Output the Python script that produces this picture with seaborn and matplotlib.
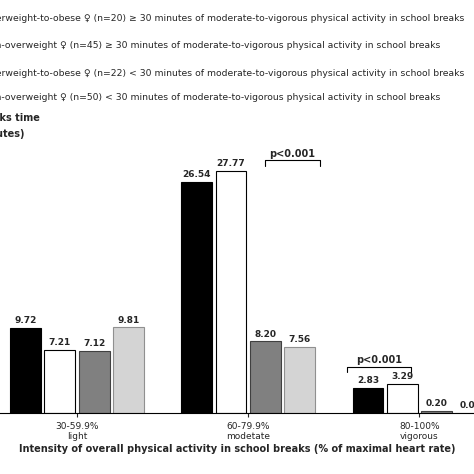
import matplotlib
matplotlib.use("Agg")
import matplotlib.pyplot as plt
import seaborn as sns
import pandas as pd

intensity = ["30-59.9%\nlight", "60-79.9%\nmodetate", "80-100%\nvigorous"]
groups = ["OW ≥30", "NW ≥30", "OW <30", "NW <30"]
values = {
    "OW ≥30": [9.72, 26.54, 2.83],
    "NW ≥30": [7.21, 27.77, 3.29],
    "OW <30": [7.12, 8.20, 0.20],
    "NW <30": [9.81, 7.56, 0.00],
}
legend_lines = [
    "Overweight-to-obese \u2640 (n=20) \u2265 30 minutes of moderate-to-vigorous physical activity in school breaks",
    "Non-overweight \u2640 (n=45) \u2265 30 minutes of moderate-to-vigorous physical activity in school breaks",
    "Overweight-to-obese \u2640 (n=22) < 30 minutes of moderate-to-vigorous physical activity in school breaks",
    "Non-overweight \u2640 (n=50) < 30 minutes of moderate-to-vigorous physical activity in school breaks",
]
colors = ["#000000", "#ffffff", "#808080", "#d4d4d4"]
edges = ["#000000", "#000000", "#404040", "#909090"]

rows = [(intensity[i], g, values[g][i]) for g in groups for i in range(3)]
df = pd.DataFrame(rows, columns=["intensity", "group", "value"])

sns.set_style("white")
fig = plt.figure(figsize=(4.74, 4.74), dpi=100)
ax = fig.add_axes([0, 0.129, 1, 0.551])
sns.barplot(data=df, x="intensity", y="value", hue="group", order=intensity,
            hue_order=groups, palette=colors, width=0.8, edgecolor="black",
            linewidth=0.8, ax=ax, legend=False)
for c, ec in zip(ax.containers, edges):
    for p in c.patches:
        w = p.get_width()
        p.set_x(p.get_x() + w * 0.05)
        p.set_width(w * 0.9)
        p.set_edgecolor(ec)
ax.set_xlim(-0.45, 2.32)
ax.set_ylim(0, 30)
for c in ax.containers:
    ax.bar_label(c, fmt="%.2f", fontsize=6.5, fontweight="bold", padding=2)
ax.set_yticks([])
ax.set_ylabel("")
ax.set_xlabel("Intensity of overall physical activity in school breaks (% of maximal heart rate)",
              fontsize=7, fontweight="bold", labelpad=2)
ax.tick_params(axis="x", labelsize=6.5, length=3, bottom=True)
for s in ["top", "right", "left"]:
    ax.spines[s].set_visible(False)
ax.spines["bottom"].set_color("black")

def bracket(x1, x2, y, h=0.6):
    ax.plot([x1, x1, x2, x2], [y - h, y, y, y - h], color="black", lw=0.8)
    ax.text((x1 + x2) / 2, y + 0.2, "p<0.001", ha="center", va="bottom",
            fontsize=7, fontweight="bold")

bracket(1 + 0.1, 1 + 0.42, 29.0)
bracket(2 - 0.42, 2 - 0.05, 5.3)

ys = [0.962, 0.903, 0.844, 0.795]
for t, y in zip(legend_lines, ys):
    fig.text(-0.035, y, t, fontsize=6.7, ha="left", va="center")
fig.text(-0.055, 0.752, "Breaks time", fontsize=7, fontweight="bold", va="center")
fig.text(-0.06, 0.718, "(minutes)", fontsize=7, fontweight="bold", va="center")

fig.savefig("out.png", dpi=100)
